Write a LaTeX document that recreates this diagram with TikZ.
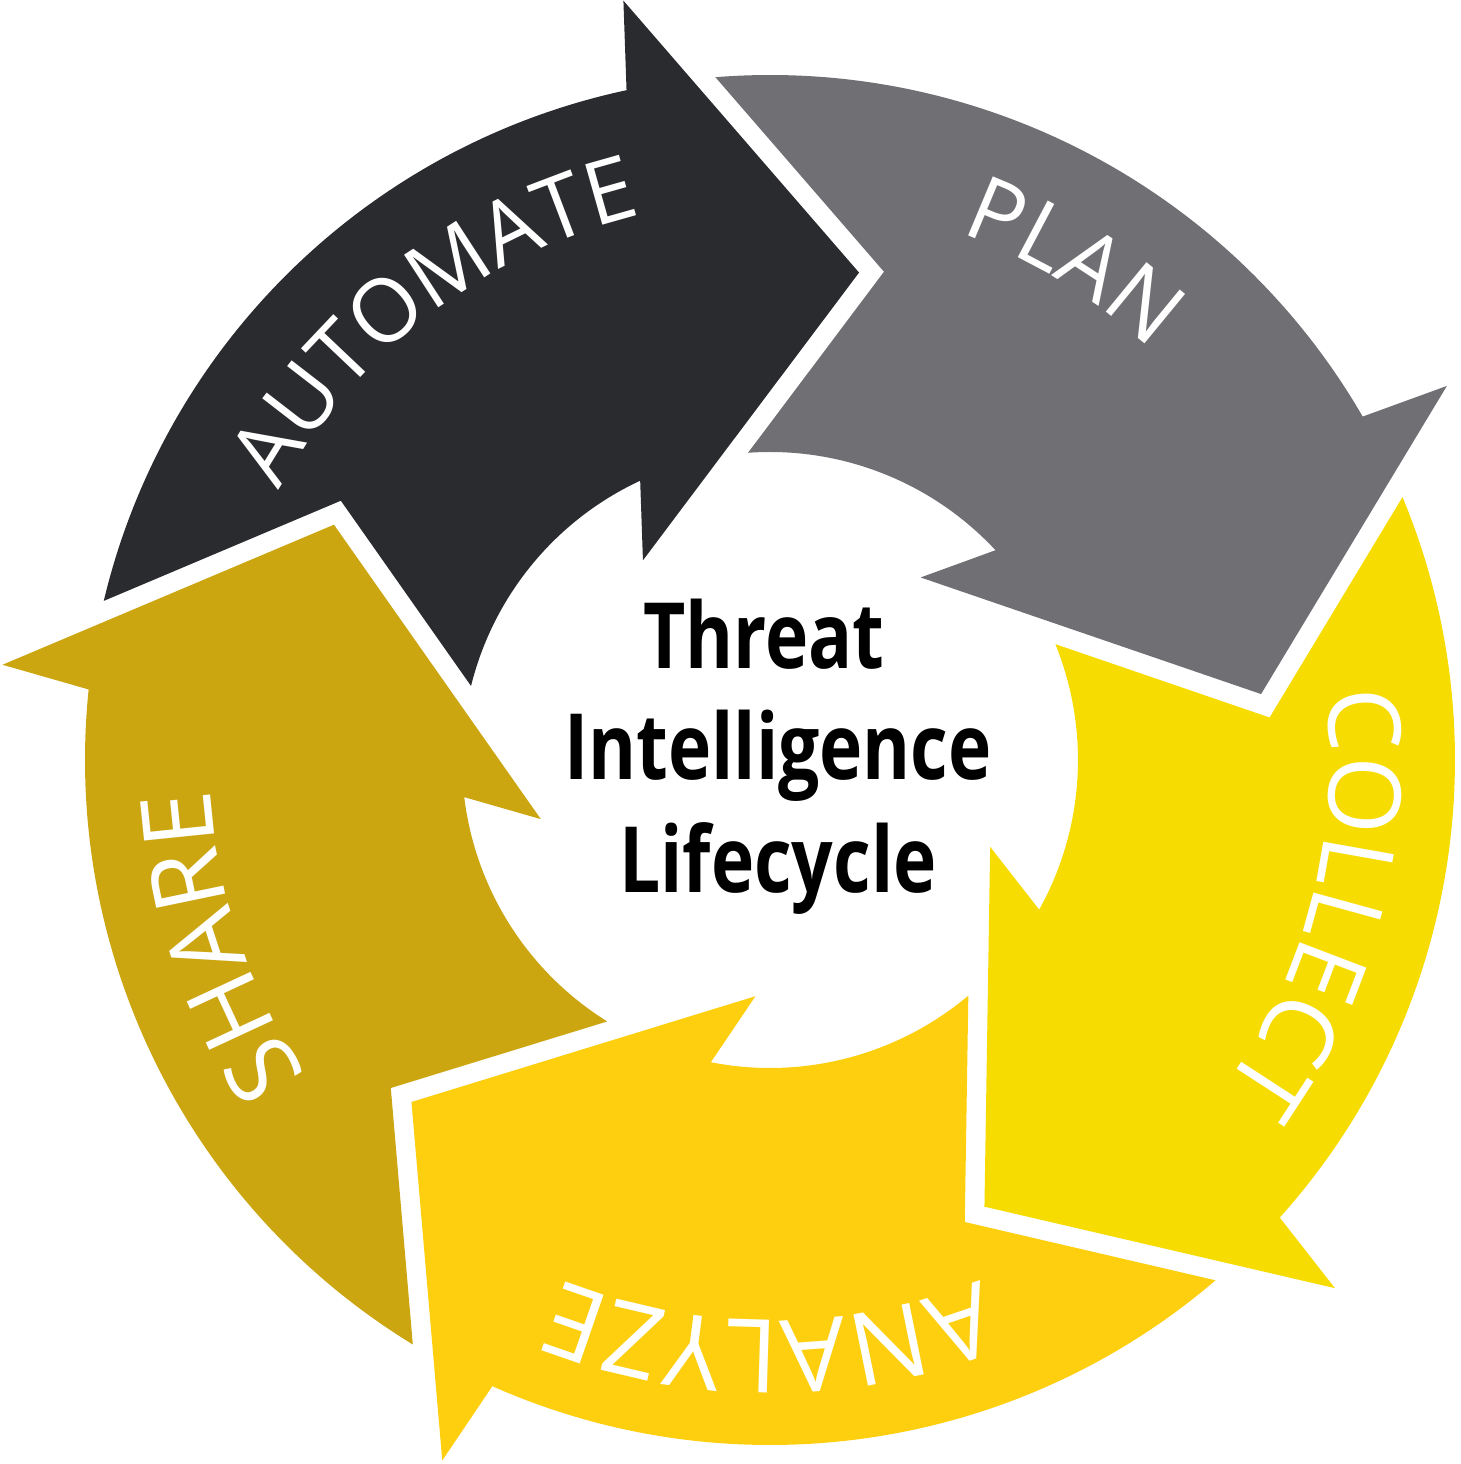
\documentclass[tikz,border=0pt]{standalone}
\usepackage{fontspec}
\usepackage{tikz}
\usetikzlibrary{decorations.text}
\usepackage{xcolor}

\newfontfamily\labelfont{Open Sans}
\newfontfamily\titlefont{Open Sans}[FakeStretch=0.8]
\newcommand{\labelsize}{\labelfont\fontsize{\lsz}{\lsz}\selectfont}

\definecolor{automatecol}{RGB}{42,43,46}
\definecolor{plancol}{RGB}{112,111,116}
\definecolor{collectcol}{RGB}{246,220,0}
\definecolor{analyzecol}{RGB}{253,207,14}
\definecolor{sharecol}{RGB}{203,166,17}

\tikzset{
    cyclearrow/.style={fill=#1, draw=none},
    arrowlabel/.style={decorate, decoration={text along path, text align=center, text color=white, text={|\labelsize|#1}}},
    titletext/.style={font=\titlefont\bfseries\fontsize{26}{31}\selectfont, inner sep=0pt, anchor=base}
}

\begin{document}
\begin{tikzpicture}[x=0.01cm, y=0.01cm]
                \useasboundingbox (-770,-704) rectangle (691,760);

                % one arrow drawn with its head at the top, then turned
                \foreach \rot/\col/\lab/\ta/\lsz in {2/automatecol/AUTOMATE/125.3/25, -70/plancol/PLAN/128.6/25.5, -142/collectcol/COLLECT/127.6/28.5, -214/analyzecol/ANALYZE/124/29, -286/sharecol/SHARE/124.6/28} {
                        \begin{scope}[rotate=\rot]
                            \fill[cyclearrow=\col] (164.57:685) arc[start angle=164.57, end angle=100.09, radius=685]
                                -- (-120,764) -- (106,484) -- (-120,204)
                                -- (112.93:308) arc[start angle=112.93, end angle=164.09, radius=308]
                                -- (146.86:501.4) -- cycle;
                            \path[arrowlabel=\lab] (\ta+40:560) arc[start angle=\ta+40, end angle=\ta-40, radius=560];
                        \end{scope}
                    }

                \node[titletext] (threat) at (-6,91) {Threat};
                \node[titletext] (intel) at (8,-20) {Intelligence};
                \node[titletext] (life) at (8,-133) {Lifecycle};
            \end{tikzpicture}
\end{document}
